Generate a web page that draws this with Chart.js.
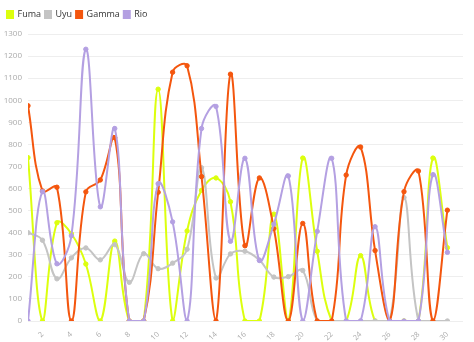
<!DOCTYPE html>
<html>
<head>
<meta charset="utf-8">
<script src="https://cdn.jsdelivr.net/npm/chart.js@4/dist/chart.umd.min.js"></script>
<style>
  html, body { margin: 0; padding: 0; background: #fff; }
  #wrap { width: 474px; height: 342px; }
</style>
</head>
<body>
<div id="wrap"><canvas id="lineChart"></canvas></div>
<script>
// Dias (eixo x)
const days = [1, 2, 3, 4, 5, 6, 7, 8, 9, 10, 11, 12, 13, 14, 15, 16, 17, 18, 19, 20, 21, 22, 23, 24, 25, 26, 27, 28, 29, 30];

// Valores de cada série
const fuma  = [740, 0, 445, 395, 258, 0, 362, 0, 0, 1050, 0, 408, 592, 648, 540, 0, 0, 484, 0, 738, 316, 0, 0, 296, 0, 0, 0, 0, 738, 332];
const uyu   = [400, 366, 191, 286, 331, 277, 346, 175, 305, 237, 262, 325, 694, 195, 304, 316, 276, 199, 201, 229, 0, 0, 0, 0, 0, 0, 559, 0, 0, 0];
const gamma = [975, 589, 606, 0, 585, 639, 830, 0, 0, 583, 1127, 1156, 654, 0, 1118, 341, 648, 419, 0, 442, 0, 0, 661, 788, 319, 0, 586, 679, 0, 502];
const rio   = [0, 586, 259, 386, 1231, 517, 872, 0, 0, 622, 449, 0, 872, 972, 361, 737, 274, 439, 657, 0, 406, 737, 0, 0, 427, 0, 0, 0, 663, 311];

// Marcas do eixo y
const yTicks = [0, 100, 200, 300, 400, 500, 600, 700, 800, 900, 1000, 1100, 1200, 1300];

const FONT = "'Open Sans', 'Noto Sans', sans-serif";

function makeSeries(label, values, color, order) {
    return {
        label: label,
        data: values,
        borderColor: color,
        backgroundColor: color,
        borderWidth: 2,
        pointRadius: 2.2,
        pointBorderWidth: 1,
        tension: 0.4,
        fill: false,
        order: order
    };
}

// Dá mais espaço abaixo da legenda
const legendGap = {
    id: 'legendGap',
    beforeInit(chart) {
        const fit = chart.legend.fit;
        chart.legend.fit = function() {
            fit.bind(chart.legend)();
            this.height += 5;
        };
    }
};

document.addEventListener('DOMContentLoaded', function() {
    const ctx = document.getElementById('lineChart');

    new Chart(ctx.getContext('2d'), {
        type: 'line',
        data: {
            labels: days,
            datasets: [
                makeSeries('Fuma', fuma, '#dcff0e', 4),
                makeSeries('Uyu', uyu, '#c4c4c4', 3),
                makeSeries('Gamma', gamma, '#f4560e', 2),
                makeSeries('Rio', rio, '#b4a0e2', 1)
            ]
        },
        plugins: [legendGap],
        options: {
            responsive: true,
            maintainAspectRatio: false,
            animation: false,
            layout: { padding: { left: 3, right: 11, top: 6, bottom: 0 } },
            plugins: {
                tooltip: { enabled: false },
                legend: {
                    position: 'top',
                    align: 'start',
                    labels: {
                        boxWidth: 6,
                        boxHeight: 7,
                        padding: 4,
                        color: '#333',
                        font: { family: FONT, size: 9 },
                        sort: (a, b) => a.datasetIndex - b.datasetIndex
                    }
                }
            },
            scales: {
                x: {
                    type: 'linear',
                    min: days[0],
                    max: 31.08,
                    grid: { display: false },
                    border: { display: false },
                    afterFit: scale => { scale.height = 21; },
                    ticks: {
                        stepSize: 2,
                        includeBounds: false,
                        autoSkip: false,
                        maxRotation: 45,
                        minRotation: 45,
                        padding: 1,
                        color: '#aaa',
                        font: { family: FONT, size: 7.5 }
                    }
                },
                y: {
                    min: yTicks[0],
                    max: yTicks[yTicks.length - 1],
                    grid: { color: '#eeeeee', drawTicks: false },
                    border: { display: false },
                    afterFit: scale => { scale.width = 25; },
                    ticks: {
                        stepSize: 100,
                        padding: 6,
                        color: '#aaa',
                        font: { family: FONT, size: 8 },
                        callback: value => String(value)
                    }
                }
            }
        }
    });
});
</script>
</body>
</html>
